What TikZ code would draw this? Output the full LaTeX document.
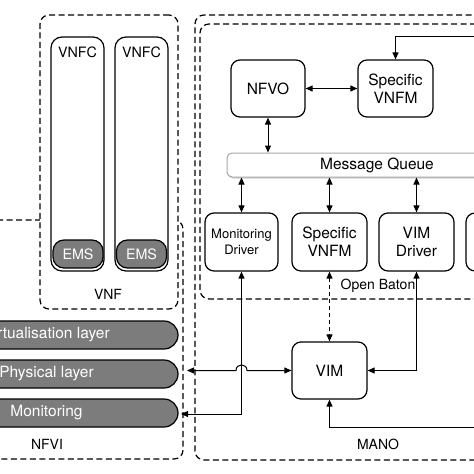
\documentclass[tikz,border=0pt]{standalone}
\usepackage{fontspec}
\setmainfont{TeX Gyre Heros}
\usetikzlibrary{arrows.meta,shadows,calc}
\definecolor{laygray}{HTML}{7C7C7C}
\begin{document}
\begin{tikzpicture}[x=1pt,y=-1pt,
  container/.style={draw, dash pattern=on 6pt off 3.5pt, line width=1.2pt, rounded corners=9pt, inner sep=0pt},
  blk/.style={draw, line width=1.2pt, rounded corners=9pt, fill=white, align=center, inner sep=0pt, font=\fontsize{15.5}{18}\selectfont},
  layer/.style={draw, line width=1.2pt, fill=laygray, rounded corners=14pt, text=white, inner sep=0pt, minimum width=263pt, minimum height=28pt, font=\fontsize{15.5}{18}\selectfont},
  ems/.style={draw, line width=1.2pt, fill=laygray, rounded corners=11pt, text=white, inner sep=0pt, minimum width=50pt, minimum height=28pt, font=\fontsize{14.3}{17}\selectfont},
  lbl/.style={inner sep=0pt, font=\fontsize{14}{16}\selectfont},
  biarr/.style={line width=1pt, {Triangle[length=7pt,width=6pt]}-{Triangle[length=7pt,width=6pt]}},
  arr/.style={line width=1pt, -{Triangle[length=7pt,width=6pt]}},
]
\useasboundingbox (0,0) rectangle (474,474);
\clip (0,0) rectangle (474,474);
\fill[white] (0,0) rectangle (474,474);

% NFVI and VNF
\node[container, minimum width=203pt, minimum height=239pt] (nfvi) at (81.5,339.5) {};
\node[container, fill=white, minimum width=138pt, minimum height=294pt] (vnf) at (109,162) {};
\node[blk, rounded corners=11pt, minimum width=53pt, minimum height=234pt] (vnfc1) at (77.5,154) {};
\node[blk, rounded corners=11pt, minimum width=53pt, minimum height=234pt] (vnfc2) at (141.5,154) {};
\node[lbl, font=\fontsize{14.3}{17}\selectfont] (vnfct1) at (77.5,52) {VNFC};
\node[lbl, font=\fontsize{14.3}{17}\selectfont] (vnfct2) at (141.5,52) {VNFC};
\node[ems] (ems1) at (78,254) {EMS};
\node[ems] (ems2) at (141.5,254) {EMS};
\node[lbl] (vnflbl) at (108,294) {VNF};

\node[layer] (virt) at (46.5,335) {Virtualisation layer};
\node[layer] (phys) at (46.5,374) {Physical layer};
\node[layer] (mon) at (46.5,413) {Monitoring};
\node[lbl] (nfvilbl) at (47,444) {NFVI};

% MANO
\node[container, minimum width=295pt, minimum height=445pt] (mano) at (342.5,237.5) {};
\node[container, minimum width=285pt, minimum height=275pt] (ob) at (342.5,161.5) {};
\node[lbl] (oblbl) at (378,286) {Open Baton};
\node[lbl] (manolbl) at (378,444) {MANO};

\node[blk, minimum width=74pt, minimum height=57pt] (nfvo) at (268,88.5) {NFVO};
\node[blk, minimum width=75pt, minimum height=57pt] (svnfm1) at (395.5,88.5) {Specific\\VNFM};
\node[draw=gray!70, line width=1pt, fill=white, rounded corners=5pt, minimum width=300pt, minimum height=24pt, inner sep=0pt,
      drop shadow={shadow xshift=0.8pt, shadow yshift=-1.5pt, opacity=0.35},
      font=\fontsize{15.5}{18}\selectfont] (mq) at (377,165) {Message Queue};

\node[blk, minimum width=73pt, minimum height=58pt, font=\fontsize{13}{16}\selectfont] (mondrv) at (241.5,242) {Monitoring\\Driver};
\node[blk, minimum width=75pt, minimum height=58pt] (svnfm2) at (329.5,242) {Specific\\VNFM};
\node[blk, minimum width=75pt, minimum height=58pt] (vimdrv) at (416.5,242) {VIM\\Driver};
\node[blk, minimum width=75pt, minimum height=58pt] (fourth) at (503.5,242) {};
\node[blk, minimum width=75pt, minimum height=57pt] (vim) at (329.5,370.5) {VIM};

% connectors
\draw[biarr] (nfvo.east) -- (svnfm1.west);
\draw[biarr] (nfvo.south) -- (nfvo.south |- mq.north);
\draw[biarr] (mq.south -| mondrv.north) -- (mondrv.north);
\draw[biarr] (mq.south -| svnfm2.north) -- (svnfm2.north);
\draw[biarr] (mq.south -| vimdrv.north) -- (vimdrv.north);
\coordinate (tin) at (480,36);
\draw[arr] (tin) -| (svnfm1.north);
\draw[biarr, dash pattern=on 4pt off 3pt] (svnfm2.south) -- (vim.north);
\draw[biarr] (vimdrv.south) |- (vim.east);
\coordinate (monend) at (181,414);
\draw[biarr] (mondrv.south) |- (monend);
\coordinate (physend) at (187,370.5);
\coordinate (hop) at (mondrv.south |- vim.west);
\draw[biarr] (physend) -- ($(hop)+(-5.5,0)$) .. controls ($(hop)+(-5.5,-7.5)$) and ($(hop)+(5.5,-7.5)$) .. ($(hop)+(5.5,0)$) -- (vim.west);
\coordinate (bin) at (480,427);
\draw[arr] (bin) -| (vim.south);
\end{tikzpicture}
\end{document}
